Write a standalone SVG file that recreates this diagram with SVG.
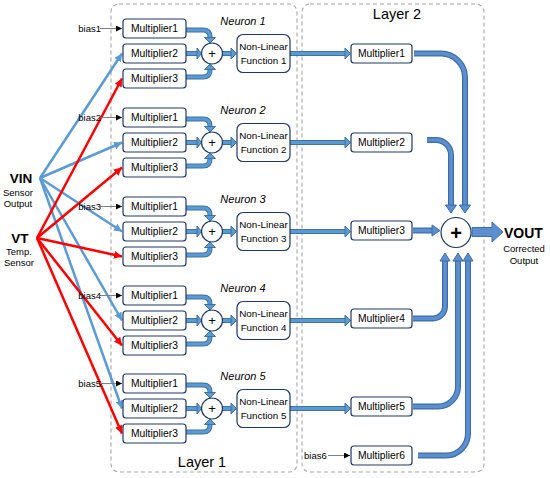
<svg xmlns="http://www.w3.org/2000/svg" width="550" height="478" viewBox="0 0 550 478">
<style>
text{font-family:"Liberation Sans",Arial,sans-serif;fill:#000}
.box{fill:#fff;stroke:#1F3864;stroke-width:1.2}
.mt{font-size:10.3px;text-anchor:middle}
.nl{font-size:9.8px;text-anchor:middle}
.lbl{font-size:11px;font-style:italic;text-anchor:middle}
.bias{font-size:9.5px;text-anchor:end}
.so{fill:none;stroke:#41719C;stroke-width:5}
.si{fill:none;stroke:#5B9BD5;stroke-width:3}
.bo{fill:none;stroke:#3D6DA6;stroke-width:6}
.bi{fill:none;stroke:#5B8FD0;stroke-width:3.6}
.hd{fill:#5B9BD5;stroke:#41719C;stroke-width:1}
.hb{fill:#5B8FD0;stroke:#3D6DA6;stroke-width:1}
.lay{fill:none;stroke:#A6A6A6;stroke-width:1.1;stroke-dasharray:4,3}
.vin{stroke:#5B9BD5;stroke-width:2.5;fill:none;marker-end:url(#ab)}
.vt{stroke:#FF0000;stroke-width:2.5;fill:none;marker-end:url(#ar)}
.bl{stroke:#7F7F7F;stroke-width:1;marker-end:url(#ak)}
</style>
<defs>
<marker id="ab" markerUnits="userSpaceOnUse" markerWidth="9" markerHeight="8" refX="8" refY="4" orient="auto" viewBox="0 0 9 8"><path d="M0,0 L8,4 L0,8 Z" fill="#5B9BD5"/></marker>
<marker id="ar" markerUnits="userSpaceOnUse" markerWidth="9" markerHeight="8" refX="8" refY="4" orient="auto" viewBox="0 0 9 8"><path d="M0,0 L8,4 L0,8 Z" fill="#FF0000"/></marker>
<marker id="ak" markerUnits="userSpaceOnUse" markerWidth="7" markerHeight="6" refX="6" refY="3" orient="auto" viewBox="0 0 7 6"><path d="M0,0 L6,3 L0,6 Z" fill="#000"/></marker>
<g id="narrows">
<path class="so" d="M186,30 H203 Q210,30 210,37 V38.5"/>
<path class="si" d="M186,30 H203 Q210,30 210,37 V38.5"/>
<polygon class="hd" points="204.5,37.5 215.5,37.5 210,43"/>
<path class="so" d="M186,53.5 H197"/>
<path class="si" d="M186,53.5 H197.5"/>
<polygon class="hd" points="197,48 197,59 201.5,53.5"/>
<path class="so" d="M186,77 H203 Q210,77 210,70 V68.5"/>
<path class="si" d="M186,77 H203 Q210,77 210,70 V68.5"/>
<polygon class="hd" points="204.5,69.5 215.5,69.5 210,64"/>
<path class="so" d="M222.5,53.5 H231"/>
<path class="si" d="M222.5,53.5 H231.5"/>
<polygon class="hd" points="231,48 231,59 236.5,53.5"/>
<line class="bl" x1="100" y1="28.5" x2="122" y2="28.5"/>
</g>
</defs>

<g id="layers">
<rect id="layer1" class="lay" x="111" y="4" width="186" height="468" rx="8"/>
<rect id="layer2" class="lay" x="302" y="4" width="182" height="468" rx="8"/>
<text x="202" y="467" font-size="14.5" text-anchor="middle">Layer 1</text>
<text x="397" y="19" font-size="14.5" text-anchor="middle">Layer 2</text>
</g>

<g id="inputs">
<g id="vin"><text x="21" y="183" font-size="13.5" font-weight="bold" text-anchor="middle">VIN</text>
<text x="18" y="196" font-size="9.5" text-anchor="middle">Sensor</text>
<text x="18" y="207" font-size="9.5" text-anchor="middle">Output</text></g>
<g id="vt"><text x="20" y="243" font-size="13.5" font-weight="bold" text-anchor="middle">VT</text>
<text x="19" y="255" font-size="9.5" text-anchor="middle">Temp.</text>
<text x="19" y="266" font-size="9.5" text-anchor="middle">Sensor</text></g>
</g>

<g id="connectors">
<line class="vin" x1="40" y1="178" x2="122" y2="53.5"/>
<line class="vin" x1="40" y1="178" x2="122" y2="142.5"/>
<line class="vin" x1="40" y1="178" x2="122" y2="231.5"/>
<line class="vin" x1="40" y1="178" x2="122" y2="320.5"/>
<line class="vin" x1="40" y1="178" x2="122" y2="408.5"/>
<line class="vt" x1="37" y1="238" x2="122" y2="78.5"/>
<line class="vt" x1="37" y1="238" x2="122" y2="167.5"/>
<line class="vt" x1="37" y1="238" x2="122" y2="256.5"/>
<line class="vt" x1="37" y1="238" x2="122" y2="345.5"/>
<line class="vt" x1="37" y1="238" x2="122" y2="433.5"/>
<use href="#narrows"/>
<use href="#narrows" transform="translate(0,89)"/>
<use href="#narrows" transform="translate(0,178)"/>
<use href="#narrows" transform="translate(0,267)"/>
<use href="#narrows" transform="translate(0,355)"/>
<g id="nl-to-l2">
<path class="so" d="M290,53.5 H345.5"/><path class="si" d="M290,53.5 H346"/><polygon class="hd" points="345,48 345,59 350.5,53.5"/>
<path class="so" d="M290,142.5 H345.5"/><path class="si" d="M290,142.5 H346"/><polygon class="hd" points="345,137 345,148 350.5,142.5"/>
<path class="so" d="M290,231.5 H345.5"/><path class="si" d="M290,231.5 H346"/><polygon class="hd" points="345,226 345,237 350.5,231.5"/>
<path class="so" d="M290,320.5 H345.5"/><path class="si" d="M290,320.5 H346"/><polygon class="hd" points="345,315 345,326 350.5,320.5"/>
<path class="so" d="M290,408.5 H345.5"/><path class="si" d="M290,408.5 H346"/><polygon class="hd" points="345,403 345,414 350.5,408.5"/>
</g>
<line class="bl" x1="328" y1="455.5" x2="350" y2="455.5"/>
<g id="l2-to-sum">
<path class="bo" d="M414,53.5 H441 A24,24 0 0 1 465,77.5 V206"/><path class="bi" d="M414,53.5 H441 A24,24 0 0 1 465,77.5 V206"/><polygon class="hb" points="459.5,205 470.5,205 465,213"/>
<path class="bo" d="M427,140 H436 A15,15 0 0 1 451,155 V206"/><path class="bi" d="M427,140 H436 A15,15 0 0 1 451,155 V206"/><polygon class="hb" points="445.5,205 456.5,205 451,213"/>
<path class="bo" d="M413,230.5 H433"/><path class="bi" d="M413,230.5 H433.5"/><polygon class="hb" points="432,225 432,236 440,230.5"/>
<path class="bo" d="M413,318.5 H433 A12,12 0 0 0 445,306.5 V260"/><path class="bi" d="M413,318.5 H433 A12,12 0 0 0 445,306.5 V260"/><polygon class="hb" points="440,261 450,261 445,253"/>
<path class="bo" d="M413,406.5 H438 A20,20 0 0 0 458,386.5 V260"/><path class="bi" d="M413,406.5 H438 A20,20 0 0 0 458,386.5 V260"/><polygon class="hb" points="453,261 463,261 458,253"/>
<path class="bo" d="M418,455.5 H446 A22,22 0 0 0 468,433.5 V260"/><path class="bi" d="M418,455.5 H446 A22,22 0 0 0 468,433.5 V260"/><polygon class="hb" points="463,261 473,261 468,253"/>
<polygon class="hb" points="472,227.5 492,227.5 492,222 503,232 492,242 492,236.5 472,236.5"/>
</g>
</g>

<g id="neuron1">
<text class="lbl" x="243" y="25">Neuron 1</text>
<text class="bias" x="101" y="31.5">bias1</text>
<g id="n1-m1"><rect class="box" x="123" y="19" width="63" height="19" rx="3"/><text class="mt" x="154.5" y="32.3">Multiplier1</text></g>
<g id="n1-m2"><rect class="box" x="123" y="44" width="63" height="19" rx="3"/><text class="mt" x="154.5" y="57.3">Multiplier2</text></g>
<g id="n1-m3"><rect class="box" x="123" y="69" width="63" height="19" rx="3"/><text class="mt" x="154.5" y="82.3">Multiplier3</text></g>
<g id="n1-sum"><circle class="box" cx="212" cy="53.5" r="10.5"/><text x="212" y="58" font-size="13" text-anchor="middle">+</text></g>
<g id="n1-nl"><rect class="box" x="237" y="34.5" width="53" height="38" rx="6"/><text class="nl" x="263.5" y="50">Non-Linear</text><text class="nl" x="263.5" y="63.5">Function 1</text></g>
</g>
<g id="neuron2" transform="translate(0,89)">
<text class="lbl" x="243" y="25">Neuron 2</text>
<text class="bias" x="101" y="31.5">bias2</text>
<g id="n2-m1"><rect class="box" x="123" y="19" width="63" height="19" rx="3"/><text class="mt" x="154.5" y="32.3">Multiplier1</text></g>
<g id="n2-m2"><rect class="box" x="123" y="44" width="63" height="19" rx="3"/><text class="mt" x="154.5" y="57.3">Multiplier2</text></g>
<g id="n2-m3"><rect class="box" x="123" y="69" width="63" height="19" rx="3"/><text class="mt" x="154.5" y="82.3">Multiplier3</text></g>
<g id="n2-sum"><circle class="box" cx="212" cy="53.5" r="10.5"/><text x="212" y="58" font-size="13" text-anchor="middle">+</text></g>
<g id="n2-nl"><rect class="box" x="237" y="34.5" width="53" height="38" rx="6"/><text class="nl" x="263.5" y="50">Non-Linear</text><text class="nl" x="263.5" y="63.5">Function 2</text></g>
</g>
<g id="neuron3" transform="translate(0,178)">
<text class="lbl" x="243" y="25">Neuron 3</text>
<text class="bias" x="101" y="31.5">bias3</text>
<g id="n3-m1"><rect class="box" x="123" y="19" width="63" height="19" rx="3"/><text class="mt" x="154.5" y="32.3">Multiplier1</text></g>
<g id="n3-m2"><rect class="box" x="123" y="44" width="63" height="19" rx="3"/><text class="mt" x="154.5" y="57.3">Multiplier2</text></g>
<g id="n3-m3"><rect class="box" x="123" y="69" width="63" height="19" rx="3"/><text class="mt" x="154.5" y="82.3">Multiplier3</text></g>
<g id="n3-sum"><circle class="box" cx="212" cy="53.5" r="10.5"/><text x="212" y="58" font-size="13" text-anchor="middle">+</text></g>
<g id="n3-nl"><rect class="box" x="237" y="34.5" width="53" height="38" rx="6"/><text class="nl" x="263.5" y="50">Non-Linear</text><text class="nl" x="263.5" y="63.5">Function 3</text></g>
</g>
<g id="neuron4" transform="translate(0,267)">
<text class="lbl" x="243" y="25">Neuron 4</text>
<text class="bias" x="101" y="31.5">bias4</text>
<g id="n4-m1"><rect class="box" x="123" y="19" width="63" height="19" rx="3"/><text class="mt" x="154.5" y="32.3">Multiplier1</text></g>
<g id="n4-m2"><rect class="box" x="123" y="44" width="63" height="19" rx="3"/><text class="mt" x="154.5" y="57.3">Multiplier2</text></g>
<g id="n4-m3"><rect class="box" x="123" y="69" width="63" height="19" rx="3"/><text class="mt" x="154.5" y="82.3">Multiplier3</text></g>
<g id="n4-sum"><circle class="box" cx="212" cy="53.5" r="10.5"/><text x="212" y="58" font-size="13" text-anchor="middle">+</text></g>
<g id="n4-nl"><rect class="box" x="237" y="34.5" width="53" height="38" rx="6"/><text class="nl" x="263.5" y="50">Non-Linear</text><text class="nl" x="263.5" y="63.5">Function 4</text></g>
</g>
<g id="neuron5" transform="translate(0,355)">
<text class="lbl" x="243" y="25">Neuron 5</text>
<text class="bias" x="101" y="31.5">bias5</text>
<g id="n5-m1"><rect class="box" x="123" y="19" width="63" height="19" rx="3"/><text class="mt" x="154.5" y="32.3">Multiplier1</text></g>
<g id="n5-m2"><rect class="box" x="123" y="44" width="63" height="19" rx="3"/><text class="mt" x="154.5" y="57.3">Multiplier2</text></g>
<g id="n5-m3"><rect class="box" x="123" y="69" width="63" height="19" rx="3"/><text class="mt" x="154.5" y="82.3">Multiplier3</text></g>
<g id="n5-sum"><circle class="box" cx="212" cy="53.5" r="10.5"/><text x="212" y="58" font-size="13" text-anchor="middle">+</text></g>
<g id="n5-nl"><rect class="box" x="237" y="34.5" width="53" height="38" rx="6"/><text class="nl" x="263.5" y="50">Non-Linear</text><text class="nl" x="263.5" y="63.5">Function 5</text></g>
</g>

<g id="layer2-mults">
<g id="l2-m1"><rect class="box" x="351" y="44" width="61" height="19" rx="3"/><text class="mt" x="381.5" y="57.3">Multiplier1</text></g>
<g id="l2-m2"><rect class="box" x="351" y="133" width="61" height="19" rx="3"/><text class="mt" x="381.5" y="146.3">Multiplier2</text></g>
<g id="l2-m3"><rect class="box" x="351" y="221" width="61" height="19" rx="3"/><text class="mt" x="381.5" y="234.3">Multiplier3</text></g>
<g id="l2-m4"><rect class="box" x="351" y="309" width="61" height="19" rx="3"/><text class="mt" x="381.5" y="322.3">Multiplier4</text></g>
<g id="l2-m5"><rect class="box" x="351" y="397" width="61" height="19" rx="3"/><text class="mt" x="381.5" y="410.3">Multiplier5</text></g>
<g id="l2-m6"><rect class="box" x="351" y="446" width="61" height="19" rx="3"/><text class="mt" x="381.5" y="459.3">Multiplier6</text></g>
<text x="304" y="458.5" font-size="9.5">bias6</text>
</g>

<g id="output-sum"><circle class="box" cx="456" cy="232.5" r="15" stroke-width="1.5"/><text x="456" y="239.5" font-size="20" font-weight="bold" text-anchor="middle">+</text></g>
<g id="vout">
<text x="504" y="237.5" font-size="14" font-weight="bold">VOUT</text>
<text x="524" y="252" font-size="9.5" text-anchor="middle">Corrected</text>
<text x="524" y="263.5" font-size="9.5" text-anchor="middle">Output</text>
</g>
</svg>
